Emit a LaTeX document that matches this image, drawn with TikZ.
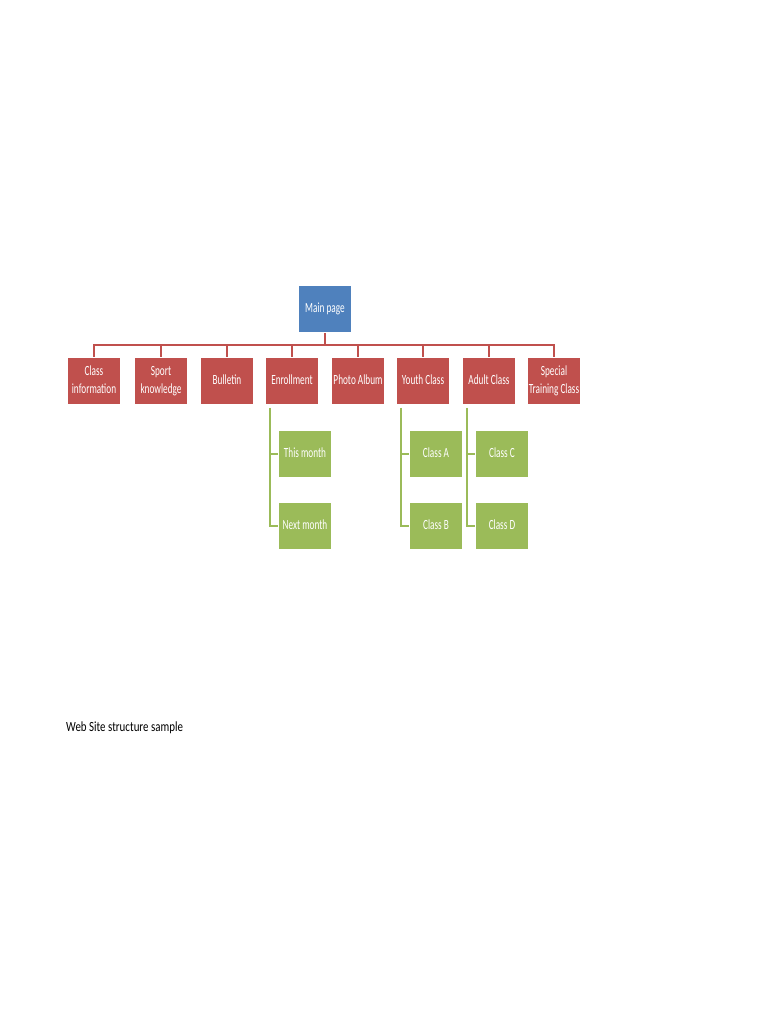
\documentclass[tikz,border=0pt]{standalone}
\usepackage{fontspec}
\usepackage{graphicx}
\setmainfont{Carlito}
\definecolor{mblue}{HTML}{4F81BD}
\definecolor{mred}{HTML}{C0504D}
\definecolor{mgreen}{HTML}{9BBB59}
\newcommand{\boxtxt}[1]{\scalebox{0.66}[1]{\begin{tabular}{@{}c@{}}#1\end{tabular}}}
\begin{document}
\begin{tikzpicture}[x=1pt,y=-1pt,
  box/.style={minimum width=53pt,minimum height=47pt,inner sep=0pt,align=center,
    text=white,font=\fontsize{14}{18}\selectfont,draw=white,line width=0.6pt},
  bluebox/.style={box,fill=mblue},
  redbox/.style={box,fill=mred},
  greenbox/.style={box,fill=mgreen},
  redline/.style={draw=mred,line width=2.4pt},
  greenline/.style={draw=mgreen,line width=2pt}]
\useasboundingbox (0,0) rectangle (768,1024);
\node[bluebox] (main) at (325,309) {\boxtxt{Main page}};
\node[redbox] (c1) at (94,381) {\boxtxt{Class\\information}};
\node[redbox] (c2) at (161,381) {\boxtxt{Sport\\knowledge}};
\node[redbox] (c3) at (227,381) {\boxtxt{Bulletin}};
\node[redbox] (c4) at (292,381) {\boxtxt{Enrollment}};
\node[redbox] (c5) at (358,381) {\boxtxt{Photo Album}};
\node[redbox] (c6) at (423,381) {\boxtxt{Youth Class}};
\node[redbox] (c7) at (489,381) {\boxtxt{Adult Class}};
\node[redbox] (c8) at (554,381) {\boxtxt{Special\\Training Class}};
\node[greenbox] (g1) at (305,454) {\boxtxt{This month}};
\node[greenbox] (g2) at (305,526) {\boxtxt{Next month}};
\node[greenbox] (g3) at (436,454) {\boxtxt{Class A}};
\node[greenbox] (g4) at (436,526) {\boxtxt{Class B}};
\node[greenbox] (g5) at (502,454) {\boxtxt{Class C}};
\node[greenbox] (g6) at (502,526) {\boxtxt{Class D}};
\coordinate (bar) at (325,345);
\draw[redline] (main.south) -- (bar);
\foreach \c in {c1,c2,c3,c4,c5,c6,c7,c8}{
  \draw[redline] (bar) -| (\c.north);
}
\draw[greenline] ([xshift=-22pt,yshift=-3pt]c4.south) |- (g1.west);
\draw[greenline] ([xshift=-22pt,yshift=-3pt]c4.south) |- (g2.west);
\draw[greenline] ([xshift=-22pt,yshift=-3pt]c6.south) |- (g3.west);
\draw[greenline] ([xshift=-22pt,yshift=-3pt]c6.south) |- (g4.west);
\draw[greenline] ([xshift=-22pt,yshift=-3pt]c7.south) |- (g5.west);
\draw[greenline] ([xshift=-22pt,yshift=-3pt]c7.south) |- (g6.west);
\node[anchor=west,inner sep=0pt,font=\fontsize{14}{16}\selectfont] (cap) at (66,728) {\scalebox{0.78}[1]{Web Site structure sample}};
\end{tikzpicture}
\end{document}
